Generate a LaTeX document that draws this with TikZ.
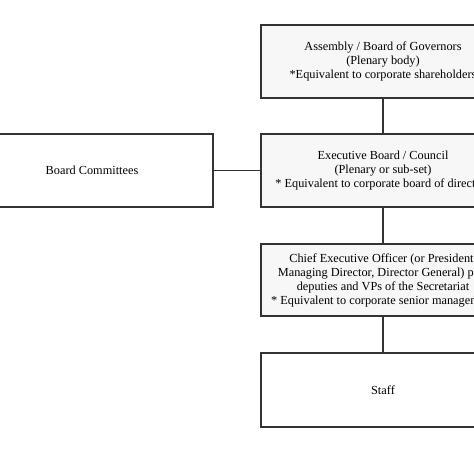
\documentclass[tikz,border=0pt]{standalone}
\usepackage{fontspec}
\setmainfont{Liberation Serif}
\begin{document}
\begin{tikzpicture}[x=1pt,y=-1pt]
\tikzset{
  orgbox/.style={draw=black!80, line width=1.3pt, fill=black!3, minimum width=244pt, align=center, font=\fontsize{12.3}{14}\selectfont, inner sep=0pt},
  link/.style={draw=black!80, line width=1.3pt}
}
\clip (0,0) rectangle (474,474);
\fill[white] (0,0) rectangle (474,474);
\node[orgbox, minimum height=73pt] (asm) at (383,61.5) {Assembly / Board of Governors\\(Plenary body)\\*Equivalent to corporate shareholders};
\node[orgbox, minimum height=73pt] (exe) at (383,170.5) {Executive Board / Council\\(Plenary or sub-set)\\* Equivalent to corporate board of directors};
\node[orgbox, minimum height=72pt] (ceo) at (383,280) {Chief Executive Officer (or President,\\Managing Director, Director General) plus\\deputies and VPs of the Secretariat\\* Equivalent to corporate senior management};
\node[orgbox, fill=white, minimum height=74pt] (stf) at (383,390) {Staff};
\node[orgbox, fill=white, minimum width=242pt, minimum height=73pt] (bc) at (92,170.5) {Board Committees};
\draw[link] (asm) -- (exe);
\draw[link] (exe) -- (ceo);
\draw[link] (ceo) -- (stf);
\draw[link] (bc.east) -- (bc.east -| exe.west);
\end{tikzpicture}
\end{document}
